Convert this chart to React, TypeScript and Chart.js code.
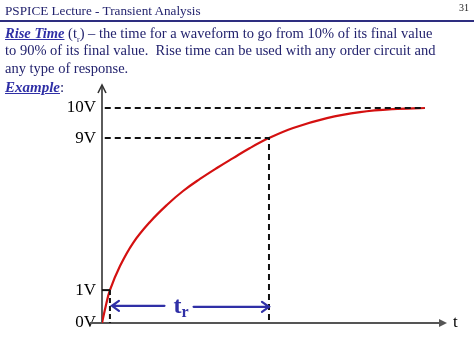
import React, { useEffect, useRef } from 'react';
import { Chart, registerables } from 'chart.js';

Chart.register(...registerables);

// Waveform (time in arbitrary units, voltage on the drawing's scale)
const timeValues = [0, 1.16, 2.3, 5.22, 8.99, 13.9, 18.8, 23.5, 28.4, 33.3, 38.0, 42.9, 48.4, 55.4, 65.2, 74.8, 84.3, 93.6];
const voltValues = [0, 0.84, 1.53, 2.65, 3.72, 4.7, 5.49, 6.14, 6.7, 7.21, 7.67, 8.14, 8.6, 9.07, 9.53, 9.81, 9.95, 10.0];

const yTickValues = [0, 1.53, 8.6, 10];
const yTickLabels = ['0V', '1V', '9V', '10V'];

const finalLevel = 10;
const level90 = 8.6;
const level10 = 1.53;
const riseStart = 2.3;
const riseEnd = 48.4;
const settleTime = 93.6;
const arrowLevel = 0.8;

const NAVY = '#23236e';
const BLUE = '#2f2fa6';

const decor = {
  id: 'decor',
  beforeDatasetsDraw(chart: any) {
    const { ctx, chartArea, scales } = chart;
    const xs = scales.x;
    const ys = scales.y;
    const x0 = xs.getPixelForValue(0);
    const y0 = ys.getPixelForValue(0);
    ctx.save();
    // y axis
    ctx.strokeStyle = '#333';
    ctx.lineWidth = 1.6;
    ctx.beginPath();
    ctx.moveTo(x0, y0);
    ctx.lineTo(x0, chartArea.top);
    ctx.stroke();
    ctx.beginPath();
    ctx.moveTo(x0 - 4, chartArea.top + 8);
    ctx.lineTo(x0, chartArea.top);
    ctx.lineTo(x0 + 4, chartArea.top + 8);
    ctx.stroke();
    // x axis
    ctx.strokeStyle = '#555';
    ctx.fillStyle = '#555';
    ctx.lineWidth = 2;
    ctx.beginPath();
    ctx.moveTo(x0 - 12, y0);
    ctx.lineTo(chartArea.right - 4, y0);
    ctx.stroke();
    ctx.beginPath();
    ctx.moveTo(chartArea.right, y0);
    ctx.lineTo(chartArea.right - 8, y0 - 4);
    ctx.lineTo(chartArea.right - 8, y0 + 4);
    ctx.closePath();
    ctx.fill();
    ctx.fillStyle = '#000';
    ctx.font = '17px "Liberation Serif"';
    ctx.textBaseline = 'middle';
    ctx.textAlign = 'left';
    ctx.fillText('t', chartArea.right + 6, y0);
    ctx.restore();
  },
  afterDatasetsDraw(chart: any) {
    const { ctx, scales } = chart;
    const xs = scales.x;
    const ys = scales.y;
    const xa = xs.getPixelForValue(riseStart) + 2;
    const xb = xs.getPixelForValue(riseEnd);
    const y = ys.getPixelForValue(arrowLevel);
    ctx.save();
    ctx.font = 'bold 24px "Liberation Serif"';
    const tw = ctx.measureText('t').width;
    ctx.font = 'bold 16px "Liberation Serif"';
    const rw = ctx.measureText('r').width;
    const textW = tw + rw;
    const cx = xa + (xb - xa) * 0.44;
    const tl = cx - textW / 2;
    const tr = cx + textW / 2;
    ctx.strokeStyle = BLUE;
    ctx.fillStyle = BLUE;
    ctx.lineWidth = 2.2;
    ctx.lineCap = 'round';
    ctx.beginPath();
    ctx.moveTo(xa, y);
    ctx.lineTo(tl - 9, y);
    ctx.moveTo(xa + 7, y - 5);
    ctx.lineTo(xa, y);
    ctx.lineTo(xa + 7, y + 5);
    ctx.moveTo(tr + 5, y + 1);
    ctx.lineTo(xb, y + 1);
    ctx.moveTo(xb - 7, y - 4);
    ctx.lineTo(xb, y + 1);
    ctx.lineTo(xb - 7, y + 6);
    ctx.stroke();
    ctx.textBaseline = 'alphabetic';
    ctx.textAlign = 'left';
    ctx.font = 'bold 24px "Liberation Serif"';
    ctx.fillText('t', tl, y + 7);
    ctx.font = 'bold 16px "Liberation Serif"';
    ctx.fillText('r', tl + tw, y + 11);
    ctx.restore();
  },
};

export default function App() {
  const ref = useRef<HTMLCanvasElement | null>(null);

  useEffect(() => {
    if (!ref.current) return;
    const dash = [6, 4];
    const chart = new Chart(ref.current, {
      type: 'line',
      data: {
        datasets: [
          {
            data: [{ x: 0.8, y: finalLevel }, { x: settleTime, y: finalLevel }],
            borderColor: '#111',
            borderWidth: 2,
            borderDash: dash,
            pointRadius: 0,
          },
          {
            data: [{ x: 0.8, y: level90 }, { x: riseEnd, y: level90 }, { x: riseEnd, y: 0 }],
            borderColor: '#111',
            borderWidth: 2,
            borderDash: dash,
            pointRadius: 0,
          },
          {
            data: [{ x: 0, y: level10 }, { x: riseStart, y: level10 }],
            borderColor: '#111',
            borderWidth: 2,
            pointRadius: 0,
          },
          {
            data: [{ x: riseStart, y: level10 }, { x: riseStart, y: 0 }],
            borderColor: '#111',
            borderWidth: 2,
            borderDash: [5, 3],
            pointRadius: 0,
          },
          {
            data: timeValues.map((t, i) => ({ x: t, y: voltValues[i] })),
            borderColor: '#d41010',
            borderWidth: 2.2,
            pointRadius: 0,
            tension: 0.4,
          },
        ],
      },
      options: {
        responsive: false,
        animation: false,
        devicePixelRatio: 1,
        layout: { padding: { left: 52, top: 85, right: 27, bottom: 32 } },
        plugins: { legend: { display: false }, tooltip: { enabled: false } },
        scales: {
          x: { type: 'linear', min: 0, max: 100, display: false },
          y: {
            type: 'linear',
            min: 0,
            max: 11.07,
            grid: { display: false, drawTicks: false },
            border: { display: false },
            afterBuildTicks: (s: any) => {
              s.ticks = yTickValues.map((v) => ({ value: v }));
            },
            afterFit: (s: any) => {
              s.width = 50;
            },
            ticks: {
              autoSkip: false,
              padding: 6,
              color: '#000',
              font: { family: '"Liberation Serif"', size: 17 },
              callback: (_v: any, i: number) => yTickLabels[i],
            },
          },
        },
      },
      plugins: [decor],
    } as any);
    return () => chart.destroy();
  }, []);

  const body: React.CSSProperties = {
    position: 'absolute',
    left: 5,
    fontFamily: '"Liberation Serif", serif',
    fontSize: 14.5,
    lineHeight: '18px',
    color: NAVY,
    whiteSpace: 'nowrap',
  };
  const em: React.CSSProperties = {
    color: BLUE,
    fontWeight: 'bold',
    fontStyle: 'italic',
    textDecoration: 'underline',
  };

  return (
    <div style={{ position: 'fixed', left: 0, top: 0, width: 474, height: 355, background: '#fff', overflow: 'hidden' }}>
      <canvas ref={ref} width={474} height={355} style={{ position: 'absolute', left: 0, top: 0, width: 474, height: 355 }} />
      <div style={{ position: 'absolute', left: 5, top: 3, fontFamily: '"Liberation Serif", serif', fontSize: 13.2, lineHeight: '16px', color: NAVY, whiteSpace: 'nowrap' }}>
        PSPICE Lecture - Transient Analysis
      </div>
      <div style={{ position: 'absolute', left: 459, top: 2, fontFamily: '"Liberation Serif", serif', fontSize: 10, lineHeight: '12px', color: '#222' }}>31</div>
      <div style={{ position: 'absolute', left: 0, top: 20, width: 474, height: 2, background: '#2e2e80' }} />
      <div style={{ ...body, top: 24 }}>
        <span style={em}>Rise Time</span> (t<sub style={{ fontSize: 8, lineHeight: 0 }}>r</sub>) – the time for a waveform to go from 10% of its final value
      </div>
      <div style={{ ...body, top: 41 }}>to 90% of its final value.&nbsp; Rise time can be used with any order circuit and</div>
      <div style={{ ...body, top: 58.5 }}>any type of response.</div>
      <div style={{ ...body, top: 78, fontSize: 15 }}>
        <span style={em}>Example</span>:
      </div>
    </div>
  );
}
